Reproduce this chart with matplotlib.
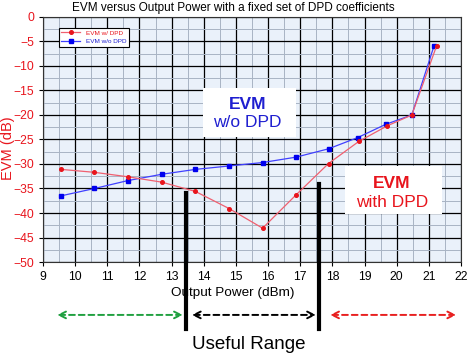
import matplotlib
matplotlib.use('Agg')
import matplotlib.pyplot as plt
from matplotlib.patches import Rectangle
from matplotlib.ticker import MultipleLocator

plt.rcParams['font.family'] = ['Liberation Sans', 'DejaVu Sans']

# Output power (dBm) and EVM (dB)
pout_dpd = [9.56, 10.6, 11.63, 12.69, 13.74, 14.79, 15.83, 16.87, 17.88, 18.82, 19.71, 20.47, 21.24]
evm_dpd = [-31.1, -31.7, -32.6, -33.7, -35.6, -39.1, -43.1, -36.3, -29.9, -25.4, -22.2, -20.0, -5.9]
pout_nodpd = [9.56, 10.6, 11.63, 12.69, 13.74, 14.79, 15.83, 16.87, 17.88, 18.79, 19.66, 20.47, 21.16]
evm_nodpd = [-36.5, -35.0, -33.4, -32.1, -31.1, -30.4, -29.7, -28.6, -26.9, -24.6, -21.9, -20.0, -5.9]

x_ticks = list(range(9, 23))
y_ticks = list(range(-50, 1, 5))

red = '#e8141c'
blue = '#1f1fd0'

fig = plt.figure(figsize=(4.74, 3.57), dpi=100)
ax = fig.add_axes([0.0907, 0.2661, 0.8819, 0.6863])
ax.set_facecolor('#eaf1fa')

ax.plot(pout_dpd, evm_dpd, '-', color='#f06070', lw=0.9, marker='o', ms=2.6,
        mfc=red, mec=red, label='EVM w/ DPD', zorder=4)
ax.plot(pout_nodpd, evm_nodpd, '-', color='#4040ff', lw=0.9, marker='s', ms=3.2,
        mfc='#0000ee', mec='#0000ee', label='EVM w/o DPD', zorder=3)

ax.set_xlim(9, 22)
ax.set_ylim(-50, 0)
ax.set_xticks(x_ticks)
ax.set_yticks(y_ticks)
ax.xaxis.set_minor_locator(MultipleLocator(0.5))
ax.yaxis.set_minor_locator(MultipleLocator(2.5))
ax.grid(which='major', color='black', lw=0.9)
ax.grid(which='minor', color='#a8b4c4', lw=0.7)
ax.set_axisbelow(True)
ax.tick_params(which='major', length=3, width=0.8, labelsize=8.7)
ax.tick_params(which='minor', length=0)
ax.tick_params(axis='y', labelcolor=red)
for s in ax.spines.values():
    s.set_color('#333333')

leg = ax.legend(loc='upper left', bbox_to_anchor=(0.03, 0.97), fontsize=4.6,
                frameon=True, fancybox=False, edgecolor='black', borderpad=0.4,
                handlelength=3, labelspacing=0.5, framealpha=1)
leg.get_frame().set_linewidth(0.8)
for t, c in zip(leg.get_texts(), [red, blue]):
    t.set_color(c)

fig.text(233 / 474, 1 - 8 / 357, 'EVM versus Output Power with a fixed set of DPD coefficients',
         ha='center', va='center', fontsize=8.5)
fig.text(8 / 474, 1 - 148 / 357, 'EVM (dB)', rotation=90, ha='center', va='center',
         fontsize=10.5, color=red)
fig.text(233 / 474, 1 - 293 / 357, 'Output Power (dBm)', ha='center', va='center', fontsize=9.7)

# annotation boxes
ax.add_patch(Rectangle((13.98, -24.5), 2.89, 10.0, fc='white', ec='none', zorder=6))
ax.text(15.35, -17.8, 'EVM', ha='center', va='center', fontsize=12.5, fontweight='bold',
        color=blue, zorder=7)
ax.text(15.35, -21.6, 'w/o DPD', ha='center', va='center', fontsize=12.5, color=blue, zorder=7)
ax.add_patch(Rectangle((18.39, -40.2), 3.02, 9.8, fc='white', ec='none', zorder=6))
ax.text(19.85, -33.9, 'EVM', ha='center', va='center', fontsize=12.5, fontweight='bold',
        color=red, zorder=7)
ax.text(19.85, -37.8, 'with DPD', ha='center', va='center', fontsize=12.5, color=red, zorder=7)

# useful range markers
ax.plot([13.45, 13.45], [-35.9, -63.7], color='black', lw=3, clip_on=False, zorder=8)
ax.plot([17.58, 17.58], [-34.1, -63.7], color='black', lw=3, clip_on=False, zorder=8)

arrow_y = -60.8
for x0, x1, c in [(9.44, 13.35, '#20a040'), (13.63, 17.49, 'black'), (17.93, 21.85, '#e82020')]:
    ax.annotate('', xy=(x1, arrow_y), xytext=(x0, arrow_y), annotation_clip=False,
                arrowprops=dict(arrowstyle='<->', color=c, lw=1.4, linestyle=(0, (3, 2)),
                                mutation_scale=12, shrinkA=0, shrinkB=0))

ax.text(15.4, -66.9, 'Useful Range', ha='center', va='center', fontsize=13.5, clip_on=False)

fig.savefig('out.png', dpi=100)
